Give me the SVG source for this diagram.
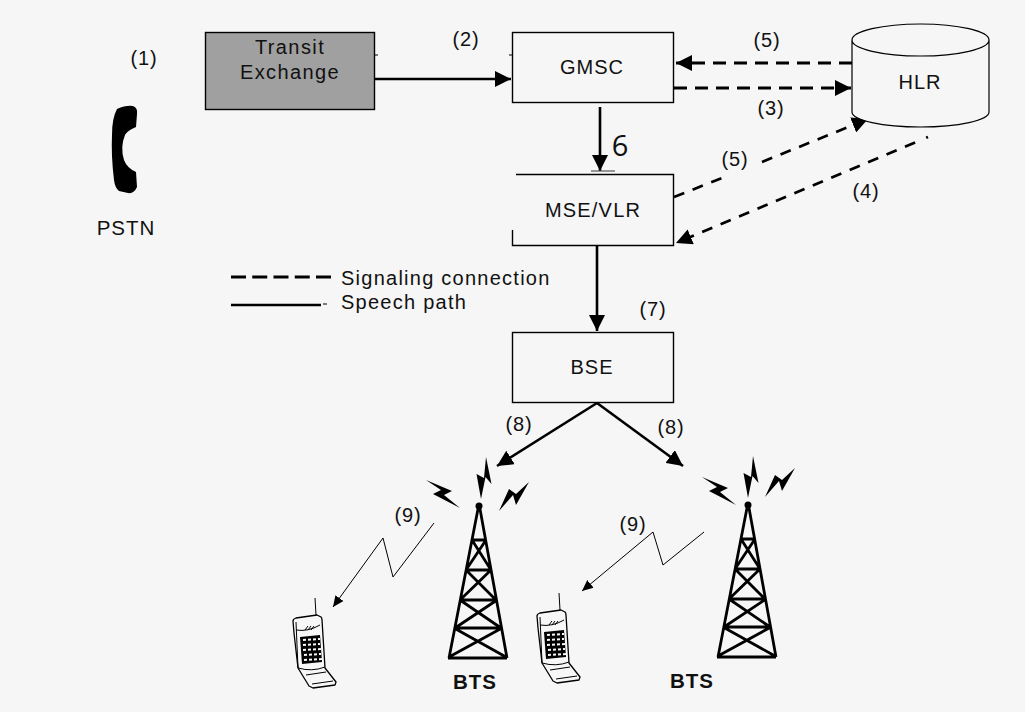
<svg xmlns="http://www.w3.org/2000/svg" width="1025" height="712" viewBox="0 0 1025 712">
<style>
text{font-family:"Liberation Sans",Arial,sans-serif;fill:#111;font-size:20px;text-anchor:middle;letter-spacing:1px}
.lab{font-size:20px;letter-spacing:.8px}
.leg{text-anchor:start;letter-spacing:1.25px}
.box{fill:none;stroke:#000;stroke-width:1.4}
.solid{fill:none;stroke:#000;stroke-width:2.6}
.dash{fill:none;stroke:#000;stroke-width:2.8;stroke-dasharray:13 8}
.diag{stroke-width:2.7;stroke-dasharray:11 9}
.thin{fill:none;stroke:#000;stroke-width:1}
.tw{fill:none;stroke:#000;stroke-width:2.800}
.ph{fill:#f7f7f7;stroke:#000;stroke-width:1.3;stroke-linejoin:round}
.b{font-weight:bold;font-size:20.5px}
</style>
<defs>
<marker id="a" markerUnits="userSpaceOnUse" markerWidth="18" markerHeight="16" refX="16" refY="8" orient="auto"><path d="M0 0L16 8L0 16z"/></marker>
<marker id="s" markerUnits="userSpaceOnUse" markerWidth="12" markerHeight="12" refX="11" refY="6" orient="auto"><path d="M0 1L11 6L0 11z"/></marker>
<g id="tower">
<circle cx="479" cy="506" r="3.500"/>
<path class="tw" d="M478 509L449 658M480 509L507 658M471.500 540H486M465.500 570H491.500M459.500 600H497M454 628H502M472 540L491 570M486 540L466 570M466 570L496 600M491 570L460 600M460 600L501 628M497 600L455 628M454 628L506 657M502 628L449 657M448 658H507"/>
</g>
<path id="bolt-l" d="M426 480L452 491L444 495L460 508L433 494L441 490z"/>
<path id="bolt-c" d="M486 457L491.500 484L485.500 477L481 499L476.500 474L484 478z"/>
<path id="bolt-r" d="M529 482L516 505L513 495L499 511L509 489L516 494z"/>
<g id="mobile">
<path class="ph" d="M293 621Q293 619 296 618L317 615L321 617Q322 618 322 620L325 668L336 682L335 685L313 688L309 686L298 668L294 633z"/>
<path class="thin" d="M315 598L316 615M296 630Q308 632 320 625M296 622L298 668M298 668Q312 672 325 667M306 675L326 672M312 684L333 681"/>
<path class="thin" d="M305 630L308 626M308 630L311 626M311 630L314 626"/>
<path d="M300 637L320 635L322 662L302 664z"/>
<path stroke="#f7f7f7" stroke-width="2" stroke-dasharray="3 2" fill="none" d="M303 640L320 639M303 645L320 644M303 650L321 649M304 655L321 654M304 660L322 659"/>
</g>
</defs>
<rect id="background" width="1025" height="712" fill="#f6f6f6"/>

<g id="connectors">
<path class="solid" d="M375 79H511" marker-end="url(#a)"/>
<path class="thin" d="M375 55H378M509 55H512"/>
<path class="dash" d="M852 63H676" marker-end="url(#a)"/>
<path class="dash" d="M674 88H851" marker-end="url(#a)"/>
<path class="solid" d="M600 107V171" marker-end="url(#a)"/>
<path d="M591 171H615" stroke="#555" stroke-width="1.200"/>
<path class="dash diag" d="M674 197L722 178"/>
<path class="dash diag" d="M762 162L868 119" marker-end="url(#a)"/>
<path class="dash diag" d="M928 137L676 243" style="stroke-dasharray:2 12 11 9 11 9 11 9 11 9 11 9 11 9 11 9 11 9 11 9 11 9 11 9 11 9 11 9" marker-end="url(#a)"/>
<path class="solid" d="M597 245V331" marker-end="url(#a)"/>
<path class="solid" d="M597 403L497 466" marker-end="url(#a)"/>
<path class="solid" d="M597 403L683 466" marker-end="url(#a)"/>
<path class="thin" d="M434 523L393 577L383 538L333 607" marker-end="url(#s)"/>
<path class="thin" d="M704 532L663 565L653 532L582 591" marker-end="url(#s)"/>
<path class="dash" d="M231 277H331" style="stroke-dasharray:15 6.25"/>
<path class="solid" d="M231 305H321"/>
<path class="thin" d="M323 304H327"/>
</g>

<g id="pstn">
<path d="M117 109Q126 105 133 106Q138 108 137 114L136 127Q128 130 125 135Q120 147 124 160Q127 168 136 172L137 187Q134 194 128 193L119 191Q115 188 114 180Q111 155 112 135Q112 118 117 109z"/>
<text x="126" y="235" style="font-size:20.5px">PSTN</text>
</g>
<g id="transit-exchange">
<rect x="205.500" y="32.500" width="169" height="77" fill="#a0a0a0" stroke="#000" stroke-width="1.400"/>
<text x="290" y="54" style="letter-spacing:1.4px">Transit</text>
<text x="290" y="79" style="letter-spacing:1.4px">Exchange</text>
</g>
<g id="gmsc">
<rect class="box" x="512.500" y="32.500" width="161" height="70"/>
<text x="592" y="74">GMSC</text>
</g>
<g id="hlr">
<path fill="#f6f6f6" stroke="#000" stroke-width="1.200" d="M852 40V112A68.500 15 0 0 0 989 112V40A68.500 16 0 0 0 852 40A68.500 16 0 0 0 989 40"/>
<text x="920" y="89">HLR</text>
</g>
<g id="mse-vlr">
<path class="box" d="M516 174.500H673.500V245.500H512.500V230"/>
<text x="593" y="217" style="letter-spacing:1.200px">MSE/VLR</text>
</g>
<g id="bse">
<rect class="box" x="512.500" y="332.500" width="161" height="70"/>
<text x="592" y="374">BSE</text>
</g>
<g id="bts-1">
<use href="#bolt-l"/><use href="#bolt-c"/><use href="#bolt-r"/><use href="#tower"/>
<text class="b" x="475" y="689">BTS</text>
</g>
<g id="bts-2">
<use href="#bolt-l" x="276" y="-3"/><use href="#bolt-c" x="267" y="-1"/><use href="#bolt-r" x="266" y="-14"/><use href="#tower" x="269" y="-1"/>
<text class="b" x="692" y="688">BTS</text>
</g>
<g id="mobile-1"><use href="#mobile"/></g>
<g id="mobile-2"><use href="#mobile" x="244" y="-5"/></g>

<g id="labels">
<text class="lab" x="144" y="65">(1)</text>
<text class="lab" x="466" y="46">(2)</text>
<text class="lab" x="771" y="115">(3)</text>
<text class="lab" x="866" y="198">(4)</text>
<text class="lab" x="767" y="47">(5)</text>
<text class="lab" x="735" y="166">(5)</text>
<text x="620" y="156" style="font-family:'Open Sans',sans-serif;font-size:29px;letter-spacing:0">6</text>
<text class="lab" x="653" y="316">(7)</text>
<text class="lab" x="519" y="431">(8)</text>
<text class="lab" x="671" y="434">(8)</text>
<text class="lab" x="408" y="522">(9)</text>
<text class="lab" x="633" y="531">(9)</text>
<text class="leg" x="341" y="285">Signaling connection</text>
<text class="leg" x="341" y="309">Speech path</text>
</g>
</svg>
